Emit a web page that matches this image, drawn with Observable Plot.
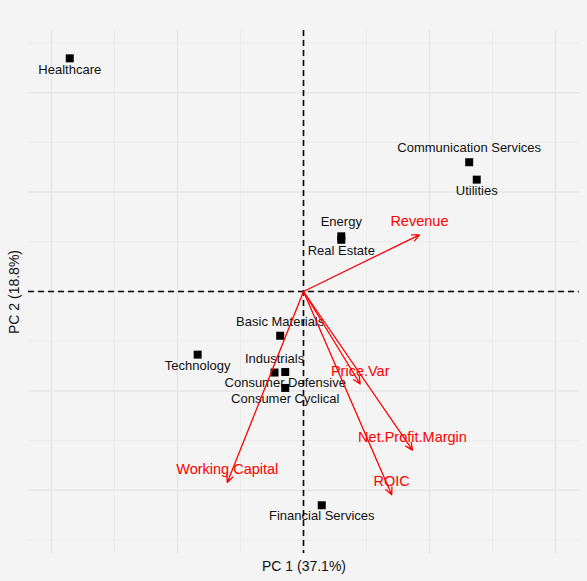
<!DOCTYPE html>
<html>
<head>
<meta charset="utf-8">
<script src="https://cdn.jsdelivr.net/npm/d3@7"></script>
<script src="https://cdn.jsdelivr.net/npm/@observablehq/plot@0.6"></script>
<style>
  html, body { margin: 0; padding: 0; background: #f4f4f4; }
  #chart { width: 587px; height: 581px; }
</style>
</head>
<body>
<div id="chart"></div>
<script>
// Sector scores (PC1, PC2)
const sectors = ["Healthcare", "Communication Services", "Utilities", "Energy", "Real Estate",
  "Basic Materials", "Technology", "Industrials", "Consumer Defensive", "Consumer Cyclical", "Financial Services"];
const pc1 = [-3.71, 2.63, 2.75, 0.60, 0.60, -0.37, -1.68, -0.46, -0.29, -0.29, 0.29];
const pc2 = [4.69, 2.60, 2.25, 1.11, 1.04, -0.89, -1.27, -1.63, -1.62, -1.94, -4.30];
// labels placed above their point (others below)
const labelAbove = ["Communication Services", "Energy", "Basic Materials", "Industrials"];

// Variable loadings (arrows)
const variables = ["Revenue", "Price.Var", "Net.Profit.Margin", "ROIC", "Working Capital"];
const load1 = [1.84, 0.90, 1.73, 1.40, -1.21];
const load2 = [1.14, -1.86, -3.19, -4.09, -3.84];

const xLabel = "PC 1 (37.1%)";
const yLabel = "PC 2 (18.8%)";
const xGrid = d3.range(-4, 5, 1);
const yGrid = d3.range(-5, 6, 1);

const points = sectors.map((s, i) => ({name: s, x: pc1[i], y: pc2[i], above: labelAbove.includes(s)}));
const arrows = variables.map((v, i) => ({name: v, x: load1[i], y: load2[i]}));

const chart = Plot.plot({
  width: 587,
  height: 581,
  marginLeft: 28,
  marginRight: 8,
  marginTop: 30,
  marginBottom: 28,
  style: {background: "#f4f4f4", fontFamily: "Liberation Sans, Arial, sans-serif"},
  x: {domain: [-4.365, 4.381], axis: null},
  y: {domain: [-5.27, 5.25], axis: null},
  marks: [
    Plot.gridX(xGrid.filter(d => d % 2 !== 0), {stroke: "#ebebeb", strokeOpacity: 1, strokeWidth: 1}),
    Plot.gridY(yGrid.filter(d => d % 2 !== 0), {stroke: "#ebebeb", strokeOpacity: 1, strokeWidth: 1}),
    Plot.gridX(xGrid.filter(d => d % 2 === 0), {stroke: "#e6e6e6", strokeOpacity: 1, strokeWidth: 1.5}),
    Plot.gridY(yGrid.filter(d => d % 2 === 0), {stroke: "#e6e6e6", strokeOpacity: 1, strokeWidth: 1.5}),
    Plot.dot(points, {x: "x", y: "y", symbol: "square", r: 4.5, fill: "black", stroke: "none"}),
    Plot.text(points.filter(d => d.above), {x: "x", y: "y", text: "name", dy: -14, fontSize: 13, fill: "#111"}),
    Plot.text(points.filter(d => !d.above), {x: "x", y: "y", text: "name", dy: 11, fontSize: 13, fill: "#111"}),
    Plot.ruleX([0], {stroke: "black", strokeWidth: 1.6, strokeDasharray: "6,4"}),
    Plot.ruleY([0], {stroke: "black", strokeWidth: 1.6, strokeDasharray: "6,4"}),
    Plot.arrow(arrows, {x1: 0, y1: 0, x2: "x", y2: "y", stroke: "red", strokeWidth: 1.3, headLength: 9, headAngle: 50}),
    Plot.text(arrows, {x: "x", y: "y", text: "name", dy: -13, fontSize: 14.5, fill: "red"}),
    Plot.text([xLabel], {frameAnchor: "bottom", lineAnchor: "middle", textAnchor: "middle", dy: 13, text: d => d, fontSize: 14, fill: "#111"}),
    Plot.text([yLabel], {frameAnchor: "left", lineAnchor: "middle", textAnchor: "middle", dx: -14, rotate: -90, text: d => d, fontSize: 14, fill: "#111"})
  ]
});
document.getElementById("chart").append(chart);
</script>
</body>
</html>
